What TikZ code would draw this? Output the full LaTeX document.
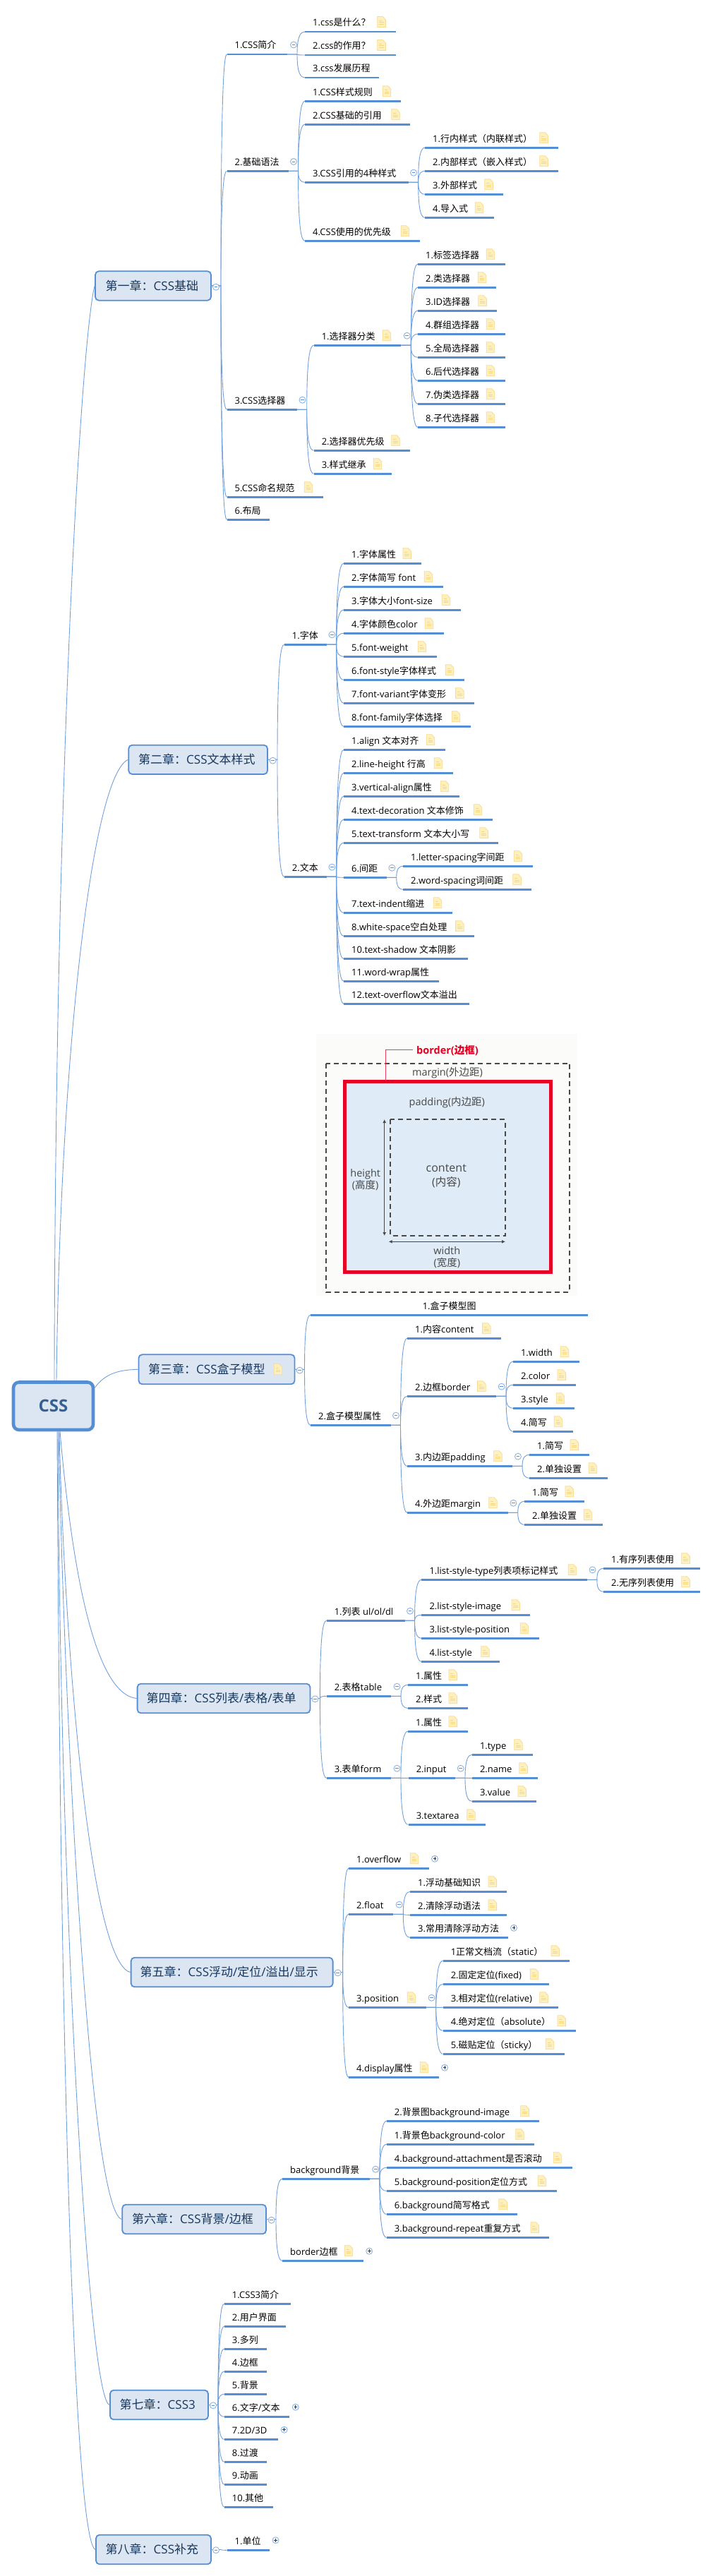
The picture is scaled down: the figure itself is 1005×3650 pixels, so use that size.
\documentclass[tikz,border=0pt]{standalone}
\usepackage{fontspec}
\usetikzlibrary{calc,arrows.meta}
\setmainfont{Open Sans}
\newfontfamily\latf{Open Sans}
\newfontfamily\cjkf{Noto Sans CJK SC}
\XeTeXinterchartokenstate=1
\chardef\cjkclass=7
\newcount\cjkcp
\cjkcp="3000 \loop\ifnum\cjkcp<"A000 \XeTeXcharclass\cjkcp=\cjkclass \advance\cjkcp 1 \repeat
\cjkcp="FF00 \loop\ifnum\cjkcp<"FFF0 \XeTeXcharclass\cjkcp=\cjkclass \advance\cjkcp 1 \repeat
\XeTeXinterchartoks 0 \cjkclass={\cjkf}
\XeTeXinterchartoks 4095 \cjkclass={\cjkf}
\XeTeXinterchartoks \cjkclass 0={\latf}
\XeTeXinterchartoks \cjkclass 4095={\latf}
\definecolor{mapblue}{HTML}{558ED5}
\definecolor{linkblue}{HTML}{6F9FDC}
\definecolor{boxfill}{HTML}{DCE6F2}
\definecolor{chapink}{HTML}{17375E}
\definecolor{rootink}{HTML}{366092}
\definecolor{leafink}{HTML}{000000}
\definecolor{noteF}{HTML}{FFF0C0}
\definecolor{noteE}{HTML}{FADB90}
\definecolor{noteL}{HTML}{F8D77F}
\definecolor{ringblue}{HTML}{8DB3E2}
\definecolor{picbg}{HTML}{FBFBF9}
\definecolor{picblue}{HTML}{DFECF7}
\definecolor{picred}{HTML}{E60023}
\definecolor{picgrey}{HTML}{484848}
\tikzset{
  barline/.style={draw=mapblue,line width=2.8},
  linkline/.style={draw=linkblue,line width=0.9},
  leaflabel/.style={inner sep=0,anchor=base west,text=leafink,font=\fontsize{13}{15}\selectfont},
  chaplabel/.style={inner sep=0,anchor=west,text=chapink,font=\fontsize{17}{20}\selectfont},
  chapbox/.style={draw=mapblue,fill=boxfill,line width=1.8,rounded corners=5,inner sep=0},
  rootbox/.style={draw=mapblue,fill=boxfill,line width=4.6,rounded corners=8,inner sep=0,
    text=rootink,font=\fontsize{24}{28}\selectfont\bfseries},
  ringbase/.style={circle,draw=ringblue,fill=white,line width=0.9,inner sep=0,minimum size=9},
  ringminus/.style={ringbase,path picture={\draw[mapblue,line width=0.8]
    ([xshift=2.2pt]path picture bounding box.west)--([xshift=-2.2pt]path picture bounding box.east);}},
  ringplus/.style={ringbase,path picture={\draw[chapink,line width=0.8]
    ([xshift=2.2pt]path picture bounding box.west)--([xshift=-2.2pt]path picture bounding box.east)
    ([yshift=-2.2pt]path picture bounding box.north)--([yshift=2.2pt]path picture bounding box.south);}},
  pictext/.style={inner sep=0,text=picgrey,font=\fontsize{14.5}{17}\selectfont},
  picdash/.style={draw=picgrey,line width=1.8,dash pattern=on 7 off 5},
  picarrow/.style={draw=picgrey,line width=1.4,{Latex[length=5,width=5]}-{Latex[length=5,width=5]}},
  noteicon/.pic={
    \path[fill=noteF,draw=noteE,line width=0.8] (-5.8,-7.5)--(1.8,-7.5)--(5.8,-3)--(5.8,7.5)--(-5.8,7.5)--cycle;
    \draw[noteL,line width=1.1] (-3.4,-1.8)--(0.5,-1.8) (-3.4,0.8)--(3.4,0.8) (-3.4,3.4)--(3.4,3.4);
  }
}
\def\txoff{11}
% [icon x]{name}{x0}{x1}{y}{text}
\newcommand\leaf[6][]{%
  \coordinate (#2-l) at (#3,#5);
  \coordinate (#2-r) at (#4,#5);
  \coordinate (#2-hub) at ({#4+14},#5);
  \draw[barline] (#2-l)--(#2-r);
  \node[leaflabel] (#2) at ({#3+\txoff},{#5-8}) {#6};
  \if\relax\detokenize{#1}\relax\else \pic at (#1,{#5-14}) {noteicon};\fi
}
% [icon x]{name}{left}{right}{top}{bottom}{text x}{text}
\newcommand\chap[8][]{%
  \node[chapbox,minimum width={#4-#3},minimum height={#6-#5}] (#2) at ({(#3+#4)/2},{(#5+#6)/2}) {};
  \coordinate (#2-r) at (#4,{(#5+#6)/2});
  \coordinate (#2-hub) at ({#4+14},{(#5+#6)/2});
  \node[chaplabel] (#2t) at (#7,{(#5+#6)/2-0.5}) {#8};
  \if\relax\detokenize{#1}\relax\else \pic at (#1,{(#5+#6)/2}) {noteicon};\fi
}
\newcommand\conn[2]{%
  \foreach \cc in {#2}{%
    \draw[linkline] (#1-r)--(#1-hub)
      .. controls ($(#1-hub |- \cc-l)!0.15!(#1-hub)$) and ($(#1-hub |- \cc-l)!0.5!(\cc-l)$) .. (\cc-l);
  }%
}
\newcommand\ringm[3]{\node[ringminus] (#1) at (#2,#3) {};}
\newcommand\ringp[3]{\node[ringplus] (#1) at (#2,#3) {};}
\begin{document}
\begin{tikzpicture}[x=1pt,y=-1pt]
\useasboundingbox (0,0) rectangle (1005,3650);
% ---- boxes
\node[rootbox,minimum width=113,minimum height=67.5] (root) at (75.5,1992.25) {CSS};
\chap{ch1}{135}{299}{384.3}{425.7}{149.5}{第一章：CSS基础}
\chap{ch2}{182.3}{379}{1055.7}{1097}{196}{第二章：CSS文本样式}
\chap[394]{ch3}{196.5}{417.5}{1919.3}{1961.3}{210}{第三章：CSS盒子模型}
\chap{ch4}{194.6}{439.4}{2385.7}{2427.3}{207.5}{第四章：CSS列表/表格/表单}
\chap{ch5}{185.6}{471.6}{2773.7}{2815.3}{198.5}{第五章：CSS浮动/定位/溢出/显示}
\chap{ch6}{173.3}{377}{3123.7}{3165.3}{187}{第六章：CSS背景/边框}
\chap{ch7}{156}{295}{3386.7}{3428.3}{169.5}{第七章：CSS3}
\chap{ch8}{136}{299}{3591.7}{3633.3}{149.5}{第八章：CSS补充}
% ---- root links
\draw[linkline] ([xshift=1.5pt]root.north) .. controls (78,1100) and (115,480) .. (ch1.west);
\draw[linkline] ([xshift=4.5pt]root.north) .. controls (85,1500) and (130,1100) .. (ch2.west);
\draw[linkline] (root.north east) ++(0,10) .. controls (150,1945) and (170,1941) .. (ch3.west);
\draw[linkline] ([xshift=9.5pt]root.south) .. controls (100,2200) and (130,2400) .. (ch4.west);
\draw[linkline] ([xshift=8.5pt]root.south) .. controls (90,2300) and (125,2780) .. (ch5.west);
\draw[linkline] ([xshift=7.5pt]root.south) .. controls (90,2400) and (125,3130) .. (ch6.west);
\draw[linkline] ([xshift=6.5pt]root.south) .. controls (85,2700) and (125,3400) .. (ch7.west);
\draw[linkline] ([xshift=5.5pt]root.south) .. controls (85,2900) and (105,3600) .. (ch8.west);
% ---- chapter 1
\leaf{a1}{321.5}{407}{77}{1.CSS简介}
\leaf[540.6]{a1a}{432}{561}{45}{1.css是什么？}
\leaf[540.6]{a1b}{432}{561}{78}{2.css的作用？}
\leaf{a1c}{432}{537}{110}{3.css发展历程}
\leaf{a2}{321.5}{408.5}{242.3}{2.基础语法}
\leaf[548]{a2a}{432}{568}{143.3}{1.CSS样式规则}
\leaf[560.5]{a2b}{432}{581}{176.3}{2.CSS基础的引用}
\leaf{a2c}{432}{578.6}{258.3}{3.CSS引用的4种样式}
\leaf[770.6]{a2c1}{602}{791}{209.3}{1.行内样式（内联样式）}
\leaf[770.6]{a2c2}{602}{791}{242.3}{2.内部样式（嵌入样式）}
\leaf[692.6]{a2c3}{602}{713}{275.3}{3.外部样式}
\leaf[679]{a2c4}{602}{700}{308.3}{4.导入式}
\leaf[574]{a2d}{432}{594.7}{341.3}{4.CSS使用的优先级}
\leaf{a3}{321.5}{420.7}{580.3}{3.CSS选择器}
\leaf[548]{a3a}{444.6}{568.3}{489.3}{1.选择器分类}
\leaf[695]{a3a1}{592}{716}{374.3}{1.标签选择器}
\leaf[683]{a3a2}{592}{703}{407.3}{2.类选择器}
\leaf[683.6]{a3a3}{592}{704}{440.3}{3.ID选择器}
\leaf[695]{a3a4}{592}{716}{473.3}{4.群组选择器}
\leaf[695]{a3a5}{592}{716}{506.3}{5.全局选择器}
\leaf[695]{a3a6}{592}{716}{539.3}{6.后代选择器}
\leaf[695]{a3a7}{592}{716}{572.3}{7.伪类选择器}
\leaf[695]{a3a8}{592}{716}{605.3}{8.子代选择器}
\leaf[560.5]{a3b}{444.6}{581}{638.3}{2.选择器优先级}
\leaf[535]{a3c}{444.6}{555.4}{671.3}{3.样式继承}
\leaf[437]{a4}{321.5}{457.5}{704.3}{5.CSS命名规范}
\leaf{a5}{321.5}{382}{736.3}{6.布局}
% ---- chapter 2
\leaf{b1}{402.7}{462.6}{913.3}{1.字体}
\leaf[576.7]{b1a}{487}{597.3}{798.3}{1.字体属性}
\leaf[607]{b1b}{487}{627.6}{831.3}{2.字体简写 font}
\leaf[632]{b1c}{487}{652.7}{864.3}{3.字体大小font-size}
\leaf[608]{b1d}{487}{629}{897.3}{4.字体颜色color}
\leaf[598]{b1e}{487}{619}{930.3}{5.font-weight}
\leaf[637]{b1f}{487}{658}{963.3}{6.font-style字体样式}
\leaf[651.4]{b1g}{487}{672}{996.3}{7.font-variant字体变形}
\leaf[646]{b1h}{487}{667}{1029.3}{8.font-family字体选择}
\leaf{b2}{402.7}{462.6}{1242.3}{2.文本}
\leaf[610]{b2a}{487}{631}{1062.3}{1.align 文本对齐}
\leaf[621]{b2b}{487}{641.8}{1095.3}{2.line-height 行高}
\leaf[630]{b2c}{487}{650.8}{1128.3}{3.vertical-align属性}
\leaf[677]{b2d}{487}{697.8}{1161.3}{4.text-decoration 文本修饰}
\leaf[685.6]{b2e}{487}{706}{1194.3}{5.text-transform 文本大小写}
\leaf{b2f}{487}{547.7}{1243.3}{6.间距}
\leaf[734]{b2f1}{571}{754.5}{1227.3}{1.letter-spacing字间距}
\leaf[732.6]{b2f2}{571}{753}{1260.3}{2.word-spacing词间距}
\leaf[620]{b2g}{487}{640.5}{1293.3}{7.text-indent缩进}
\leaf[651.4]{b2h}{487}{672}{1326.3}{8.white-space空白处理}
\leaf{b2i}{487}{663}{1358.3}{10.text-shadow 文本阴影}
\leaf{b2j}{487}{622.4}{1390.3}{11.word-wrap属性}
\leaf{b2k}{487}{665}{1422.3}{12.text-overflow文本溢出}
% ---- box model picture
\fill[picbg] (448,1465) rectangle (818,1836);
\draw[picdash] (462.3,1506.7) rectangle (807,1830.7);
\draw[draw=picred,fill=picblue,line width=5] (488.7,1532.7) rectangle (780.3,1802.7);
\draw[picdash] (553,1586.3) rectangle (715.7,1750.7);
\draw[picarrow] (544.7,1586) -- (544.7,1751);
\draw[picarrow] (550.7,1759.3) -- (716,1759.3);
\draw[draw=picred!75!white,line width=1.5] (546.7,1530.5) -- (546.7,1487.7) -- (585,1487.7);
\node[pictext,text=picred,font=\fontsize{14.5}{17}\selectfont\bfseries] (pborder) at (634,1488) {border(边框)};
\node[pictext] (pmargin) at (634,1520) {margin(外边距)};
\node[pictext] (ppadding) at (633.3,1561.7) {padding(内边距)};
\node[pictext,font=\fontsize{16}{19}\selectfont] (pcontent) at (632.3,1655) {content};
\node[pictext,font=\fontsize{15.5}{19}\selectfont] (pcontentb) at (632.3,1675) {(内容)};
\node[pictext] (pheight) at (517.7,1663.3) {height};
\node[pictext] (pheightb) at (517.7,1680) {(高度)};
\node[pictext] (pwidth) at (633.3,1772.3) {width};
\node[pictext] (pwidthb) at (633.3,1789) {(宽度)};
% ---- chapter 3
{\def\txoff{158.6}\leaf{c1}{440}{832.5}{1863.3}{1.盒子模型图}}
\leaf{c2}{440}{553.5}{2019.3}{2.盒子模型属性}
\leaf[689.4]{c2a}{577}{710}{1896.3}{1.内容content}
\leaf[682.4]{c2b}{577}{703}{1978.3}{2.边框border}
\leaf[800]{c2b1}{726.8}{821}{1929.3}{1.width}
\leaf[795.8]{c2b2}{726.8}{816.4}{1962.3}{2.color}
\leaf[794]{c2b3}{726.8}{814.4}{1995.3}{3.style}
\leaf[791]{c2b4}{726.8}{812}{2028.3}{4.简写}
\leaf[705.5]{c2c}{577}{726}{2077.3}{3.内边距padding}
\leaf[813.8]{c2c1}{750}{835}{2061.3}{1.简写}
\leaf[840]{c2c2}{750}{860.8}{2094.3}{2.单独设置}
\leaf[698.5]{c2d}{577}{719.7}{2143.3}{4.外边距margin}
\leaf[806.7]{c2d1}{743}{828}{2127.3}{1.简写}
\leaf[833]{c2d2}{743}{853.7}{2160.3}{2.单独设置}
% ---- chapter 4
\leaf{d1}{462.6}{573.5}{2296.3}{1.列表 ul/ol/dl}
\leaf[811]{d1a}{597.3}{831.8}{2238.3}{1.list-style-type列表项标记样式}
\leaf[971.6]{d1a1}{855}{992}{2222.3}{1.有序列表使用}
\leaf[971.6]{d1a2}{855}{992}{2255.3}{2.无序列表使用}
\leaf[730.7]{d1b}{597.3}{751.3}{2288.3}{2.list-style-image}
\leaf[743]{d1c}{597.3}{763.5}{2321.3}{3.list-style-position}
\leaf[687.5]{d1d}{597.3}{708}{2354.3}{4.list-style}
\leaf{d2}{462.6}{554}{2403.3}{2.表格table}
\leaf[641.8]{d2a}{578}{663}{2387.3}{1.属性}
\leaf[641.8]{d2b}{578}{663}{2420.3}{2.样式}
\leaf{d3}{462.6}{554}{2519.3}{3.表单form}
\leaf[641.8]{d3a}{578}{663}{2453.3}{1.属性}
\leaf{d3b}{578.6}{645}{2519.3}{2.input}
\leaf[734.5]{d3b1}{668.8}{755}{2486.3}{1.type}
\leaf[741.6]{d3b2}{668.8}{762}{2519.3}{2.name}
\leaf[739.7]{d3b3}{668.8}{760}{2552.3}{3.value}
\leaf[667.5]{d3c}{578.6}{688}{2585.3}{3.textarea}
% ---- chapter 5
\leaf[587]{e1}{494}{607.6}{2647.3}{1.overflow}
\leaf{e2}{494}{557.3}{2712.3}{2.float}
\leaf[697.8]{e2a}{581}{718.4}{2680.3}{1.浮动基础知识}
\leaf[697.8]{e2b}{581}{718.4}{2713.3}{2.清除浮动语法}
\leaf{e2c}{581}{720}{2745.3}{3.常用清除浮动方法}
\leaf[583]{e3}{494}{603.7}{2844.3}{3.position}
\leaf[786.7]{e3a}{627.6}{807}{2778.3}{1正常文档流（static）}
\leaf[757]{e3b}{627.6}{777.7}{2811.3}{2.固定定位(fixed)}
\leaf[770.6]{e3c}{627.6}{791}{2844.3}{3.相对定位(relative)}
\leaf[795.7]{e3d}{627.6}{816.4}{2877.3}{4.绝对定位（absolute）}
\leaf[779]{e3e}{627.6}{799.6}{2910.3}{5.磁贴定位（sticky）}
\leaf[601]{e4}{494}{621.8}{2943.3}{4.display属性}
% ---- chapter 6
\leaf{f1}{400}{523.8}{3087.3}{background背景}
\leaf[743.6]{f1a}{547.7}{764}{3005.3}{2.背景图background-image}
\leaf[736.5]{f1b}{547.7}{757}{3038.3}{1.背景色background-color}
\leaf[790]{f1c}{547.7}{810.6}{3071.3}{4.background-attachment是否滚动}
\leaf[768]{f1d}{547.7}{788.7}{3104.3}{5.background-position定位方式}
\leaf[712.6]{f1e}{547.7}{733.2}{3137.3}{6.background简写格式}
\leaf[757.7]{f1f}{547.7}{778.4}{3170.3}{3.background-repeat重复方式}
\leaf[494]{f2}{400}{514.8}{3203.3}{border边框}
% ---- chapter 7
\leaf{g1}{317.7}{411.7}{3264.3}{1.CSS3简介}
\leaf{g2}{317.7}{404.6}{3296.3}{2.用户界面}
\leaf{g3}{317.7}{378.2}{3328.3}{3.多列}
\leaf{g4}{317.7}{378.2}{3360.3}{4.边框}
\leaf{g5}{317.7}{378.2}{3392.3}{5.背景}
\leaf{g6}{317.7}{410.4}{3424.3}{6.文字/文本}
\leaf{g7}{317.7}{394.3}{3456.3}{7.2D/3D}
\leaf{g8}{317.7}{378.2}{3488.3}{8.过渡}
\leaf{g9}{317.7}{378.2}{3520.3}{9.动画}
\leaf{g10}{317.7}{386.6}{3552.3}{10.其他}
% ---- chapter 8
\leaf{h1}{321.5}{382}{3613.3}{1.单位}
% ---- links
\conn{ch1}{a1,a2,a3,a4,a5}
\conn{a1}{a1a,a1b,a1c}
\conn{a2}{a2a,a2b,a2c,a2d}
\conn{a2c}{a2c1,a2c2,a2c3,a2c4}
\conn{a3}{a3a,a3b,a3c}
\conn{a3a}{a3a1,a3a2,a3a3,a3a4,a3a5,a3a6,a3a7,a3a8}
\conn{ch2}{b1,b2}
\conn{b1}{b1a,b1b,b1c,b1d,b1e,b1f,b1g,b1h}
\conn{b2}{b2a,b2b,b2c,b2d,b2e,b2f,b2g,b2h,b2i,b2j,b2k}
\conn{b2f}{b2f1,b2f2}
\conn{ch3}{c1,c2}
\conn{c2}{c2a,c2b,c2c,c2d}
\conn{c2b}{c2b1,c2b2,c2b3,c2b4}
\conn{c2c}{c2c1,c2c2}
\conn{c2d}{c2d1,c2d2}
\conn{ch4}{d1,d2,d3}
\conn{d1}{d1a,d1b,d1c,d1d}
\conn{d1a}{d1a1,d1a2}
\conn{d2}{d2a,d2b}
\conn{d3}{d3a,d3b,d3c}
\conn{d3b}{d3b1,d3b2,d3b3}
\conn{ch5}{e1,e2,e3,e4}
\conn{e2}{e2a,e2b,e2c}
\conn{e3}{e3a,e3b,e3c,e3d,e3e}
\conn{ch6}{f1,f2}
\conn{f1}{f1a,f1b,f1c,f1d,f1e,f1f}
\conn{ch7}{g1,g2,g3,g4,g5,g6,g7,g8,g9,g10}
\conn{ch8}{h1}
% ---- rings
\ringm{r1}{306}{406.7}
\ringm{r2}{386.6}{1077.7}
\ringm{r3}{424.6}{1941.7}
\ringm{r4}{446.5}{2407.3}
\ringm{r5}{478.7}{2795.3}
\ringm{r6}{384.6}{3145.7}
\ringm{r7}{302}{3408.3}
\ringm{r8}{306}{3613.3}
\ringm{ra1}{416}{63.5}
\ringm{ra2}{416}{229}
\ringm{ra2c}{586}{244.7}
\ringm{ra3}{428.5}{566.7}
\ringm{ra3a}{576.7}{475.7}
\ringm{rb1}{470.4}{899.3}
\ringm{rb2}{470.4}{1228.7}
\ringm{rb2f}{555.4}{1229.7}
\ringm{rc2}{561}{2005.7}
\ringm{rc2b}{710.7}{1964.7}
\ringm{rc2c}{734}{2063.7}
\ringm{rc2d}{727.4}{2129.7}
\ringm{rd1}{581}{2282.7}
\ringm{rd1a}{839.5}{2224.3}
\ringm{rd2}{562.5}{2389.7}
\ringm{rd3}{562.5}{2505.7}
\ringm{rd3b}{652.7}{2505.7}
\ringp{re1}{616}{2633.7}
\ringm{re2}{565.7}{2698.7}
\ringp{re2c}{728}{2731.7}
\ringm{re3}{611.5}{2830.7}
\ringp{re4}{630}{2929.7}
\ringm{rf1}{532.2}{3073.7}
\ringp{rf2}{523.2}{3189.7}
\ringp{rg6}{418.8}{3410.7}
\ringp{rg7}{402.7}{3442.7}
\ringp{rh1}{390.5}{3599.3}
\end{tikzpicture}
\end{document}
